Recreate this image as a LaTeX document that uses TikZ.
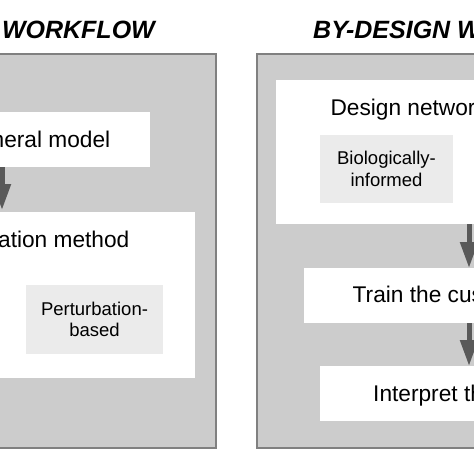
\documentclass[tikz,border=0pt]{standalone}
\usepackage{fontspec}
\setmainfont{Liberation Sans}
\usetikzlibrary{arrows.meta}
\definecolor{panelgray}{HTML}{CCCCCC}
\definecolor{panelborder}{HTML}{808080}
\definecolor{lightbox}{HTML}{EBEBEB}
\definecolor{arrowgray}{HTML}{595959}
\begin{document}
\begin{tikzpicture}[x=1pt,y=-1pt,
  panel/.style={draw=panelborder, line width=1.5pt, fill=panelgray, inner sep=0pt, anchor=north west},
  whitebox/.style={fill=white, draw=none, inner sep=0pt, anchor=north west},
  lbox/.style={fill=lightbox, draw=none, inner sep=0pt, align=center,
    font=\fontsize{18.5}{21.5}\selectfont},
  titletext/.style={font=\fontsize{25}{30}\selectfont\bfseries\itshape, inner sep=0pt},
  bodytext/.style={font=\fontsize{22.7}{26}\selectfont, inner sep=0pt},
  flow/.style={draw=arrowgray, line width=5pt, -{Triangle[width=17pt,length=26pt]}}]
\useasboundingbox (0,0) rectangle (474,474);
\clip (0,0) rectangle (474,474);
\fill[white] (0,0) rectangle (474,474);

% titles
\node[titletext, anchor=base east] (t1) at (155,38.5) {POST-HOC WORKFLOW};
\node[titletext, anchor=base west] (t2) at (313,38.5) {BY-DESIGN WORKFLOW};

% left panel
\node[panel, minimum width=415pt, minimum height=394pt] (lp) at (-200,53) {};
\node[whitebox, minimum width=250pt, minimum height=55pt] (gm) at (-100,112) {};
\node[whitebox, minimum width=295pt, minimum height=166pt] (im) at (-100,212) {};
\node[lbox, minimum width=137pt, minimum height=69pt] (pb) at (94.5,319.5) {Perturbation-\\based};
\node[bodytext, anchor=base east] (gmt) at (110.5,147) {General model};
\node[bodytext, anchor=base east] (imt) at (129.6,247) {Interpretation method};

% right panel
\node[panel, minimum width=300pt, minimum height=394pt] (rp) at (256,53) {};
\node[whitebox, minimum width=300pt, minimum height=144pt] (dn) at (276,80) {};
\node[lbox, minimum width=133pt, minimum height=68pt] (bi) at (386.5,169) {Biologically-\\informed};
\node[whitebox, minimum width=300pt, minimum height=55pt] (tr) at (304,268) {};
\node[whitebox, minimum width=300pt, minimum height=55pt] (ip) at (320,366) {};
\node[bodytext, anchor=base west] (dnt) at (330.3,115) {Design network};
\node[bodytext, anchor=base west] (trt) at (352.5,302) {Train the custom network};
\node[bodytext, anchor=base west] (ipt) at (373,401) {Interpret the network};

% arrows
\coordinate (lx) at (2,0);
\coordinate (rx) at (469,0);
\draw[flow, shorten >=2pt] (gm.south -| lx) -- (im.north -| lx);
\draw[flow] (dn.south -| rx) -- (tr.north -| rx);
\draw[flow] (tr.south -| rx) -- (ip.north -| rx);
\end{tikzpicture}
\end{document}
